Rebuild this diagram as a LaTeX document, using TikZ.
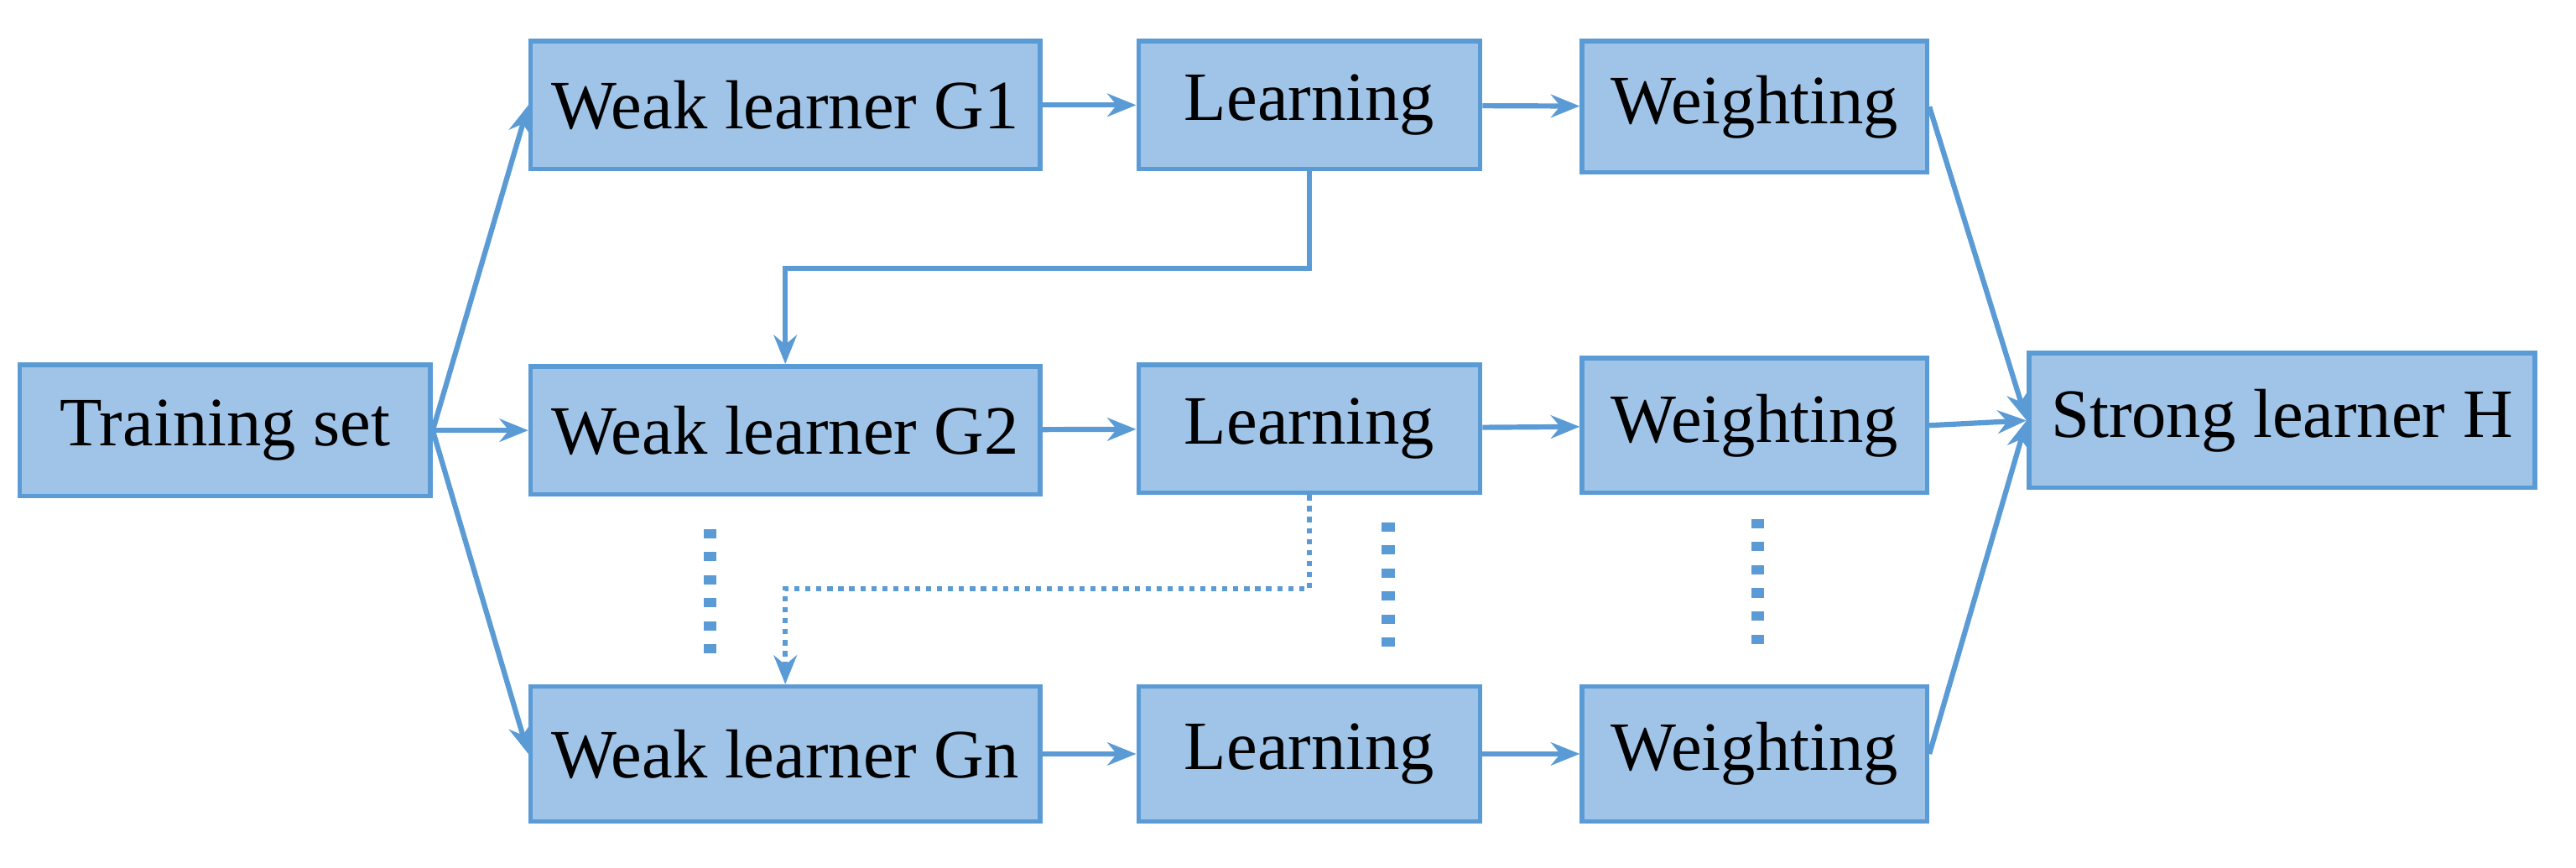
\documentclass[tikz,border=0pt]{standalone}
\usepackage{fontspec}
\setmainfont{Liberation Serif}
\usetikzlibrary{arrows.meta}
\definecolor{boxfill}{HTML}{A0C4E8}
\definecolor{boxline}{HTML}{5B9BD5}
\tikzset{
  blk/.style={draw=boxline, fill=boxfill, line width=0.8pt, inner sep=0pt,
    font=\fontsize{12}{14}\selectfont},
  flow/.style={draw=boxline, line width=0.9pt, -{Stealth[length=5pt,width=4pt]}},
  gap/.style={draw=boxline, line width=2.2pt, dash pattern=on 1.6pt off 2.4pt}
}
\begin{document}
\begin{tikzpicture}[x=0.1mm, y=-0.1mm]
    \useasboundingbox (0,0) rectangle (1568,528);
    \node[blk, minimum width=25mm, minimum height=8mm] (train) at (137,262) {Training set};
    \node[blk, minimum width=31mm, minimum height=7.8mm] (g1) at (478,64) {Weak learner G1};
    \node[blk, minimum width=31mm, minimum height=7.8mm] (g2) at (478,262) {Weak learner G2};
    \node[blk, minimum width=31mm, minimum height=8.2mm] (gn) at (478,459) {Weak learner Gn};
    \node[blk, minimum width=20.8mm, minimum height=7.8mm] (l1) at (797,64) {Learning};
    \node[blk, minimum width=20.8mm, minimum height=7.8mm] (l2) at (797,261) {Learning};
    \node[blk, minimum width=20.8mm, minimum height=8.2mm] (ln) at (797,459) {Learning};
    \node[blk, minimum width=21mm, minimum height=8mm] (w1) at (1068,65) {Weighting};
    \node[blk, minimum width=21mm, minimum height=8.2mm] (w2) at (1068,259) {Weighting};
    \node[blk, minimum width=21mm, minimum height=8.2mm] (wn) at (1068,459) {Weighting};
    \node[blk, minimum width=30.8mm, minimum height=8.2mm] (strong) at (1389,256) {Strong learner H};
    % fan out and in
    \foreach \g in {g1,g2,gn} \draw[flow] (train.east) -- (\g.west);
    \foreach \w in {w1,w2,wn} \draw[flow] (\w.east) -- (strong.west);
    \draw[flow] (g1) -- (l1);
    \draw[flow] (l1) -- (w1);
    \draw[flow] (g2) -- (l2);
    \draw[flow] (l2) -- (w2);
    \draw[flow] (gn) -- (ln);
    \draw[flow] (ln) -- (wn);
    % feedback
    \draw[flow] (l1.south) -- ++(0,59) -| (g2.north);
    \draw[flow, densely dotted] (l2.south) -- ++(0,57) -| (gn.north);
    % elided rows
    \coordinate (d1a) at (432,322); \coordinate (d1b) at (432,402);
    \coordinate (d2a) at (845,318); \coordinate (d2b) at (845,400);
    \coordinate (d3a) at (1070,316); \coordinate (d3b) at (1070,396);
    \draw[gap] (d1a) -- (d1b);
    \draw[gap] (d2a) -- (d2b);
    \draw[gap] (d3a) -- (d3b);
\end{tikzpicture}
\end{document}
